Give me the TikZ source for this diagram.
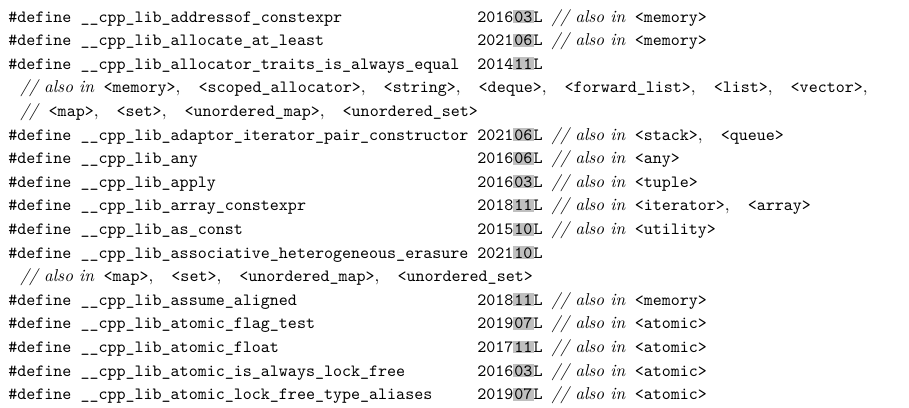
\documentclass[tikz,border=0pt]{standalone}
\usepackage{fontspec}
\usepackage{xcolor}
\newcommand\hlx[1]{{\setlength\fboxsep{0.6pt}\colorbox{black!25}{#1}}}
\newcommand\cm{\textrm{\textit{// also in}}}
\newcommand\sep{\textrm{,}\hspace{10.5pt}}
\newcommand\Rw[4]{%
  \node[txt] (d#1) at (8,{22+23.6*(#1-1)}) {\#define \_\_cpp\_lib\_#2};
  \node[txt] (n#1) at (477,{22+23.6*(#1-1)}) {#3};}
\begin{document}
\begin{tikzpicture}[x=0.582pt,y=-0.582pt,
  txt/.style={anchor=base west,inner sep=0pt,font=\fontsize{10}{12}\ttfamily}]
\useasboundingbox (0,0) rectangle (909,407);
\Rw{1}{addressof\_constexpr}{2016\hlx{03}L \cm{} <memory>}{}
\Rw{2}{allocate\_at\_least}{2021\hlx{06}L \cm{} <memory>}{}
\Rw{3}{allocator\_traits\_is\_always\_equal}{2014\hlx{11}L}{}
\node[txt] (c4) at (20,{22+23.6*3}) {\cm{} <memory>\sep<scoped\_allocator>\sep<string>\sep<deque>\sep<forward\_list>\sep<list>\sep<vector>\textrm{,}};
\node[txt] (c5) at (20,{22+23.6*4}) {\textrm{\textit{//}} <map>\sep<set>\sep<unordered\_map>\sep<unordered\_set>};
\Rw{6}{adaptor\_iterator\_pair\_constructor}{2021\hlx{06}L \cm{} <stack>\sep<queue>}{}
\Rw{7}{any}{2016\hlx{06}L \cm{} <any>}{}
\Rw{8}{apply}{2016\hlx{03}L \cm{} <tuple>}{}
\Rw{9}{array\_constexpr}{2018\hlx{11}L \cm{} <iterator>\sep<array>}{}
\Rw{10}{as\_const}{2015\hlx{10}L \cm{} <utility>}{}
\Rw{11}{associative\_heterogeneous\_erasure}{2021\hlx{10}L}{}
\node[txt] (c12) at (20,{22+23.6*11}) {\cm{} <map>\sep<set>\sep<unordered\_map>\sep<unordered\_set>};
\Rw{13}{assume\_aligned}{2018\hlx{11}L \cm{} <memory>}{}
\Rw{14}{atomic\_flag\_test}{2019\hlx{07}L \cm{} <atomic>}{}
\Rw{15}{atomic\_float}{2017\hlx{11}L \cm{} <atomic>}{}
\Rw{16}{atomic\_is\_always\_lock\_free}{2016\hlx{03}L \cm{} <atomic>}{}
\Rw{17}{atomic\_lock\_free\_type\_aliases}{2019\hlx{07}L \cm{} <atomic>}{}
\end{tikzpicture}
\end{document}
